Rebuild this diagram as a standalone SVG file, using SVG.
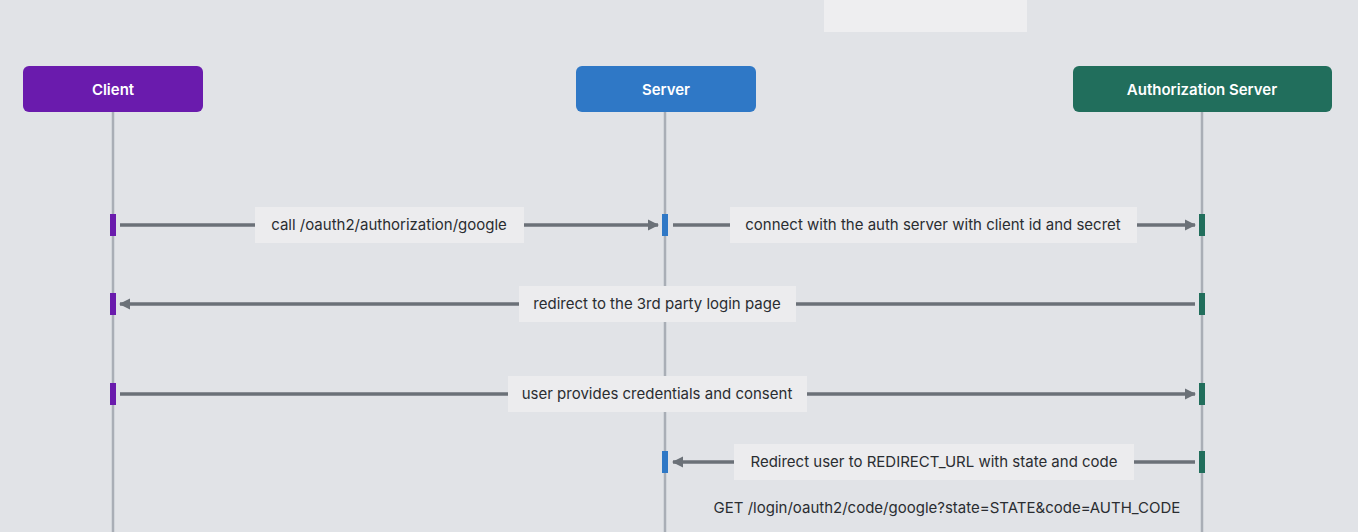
<svg xmlns="http://www.w3.org/2000/svg" width="1358" height="532" viewBox="0 0 1358 532">
<defs>
<style>
.hd{font-family:"Inter","Liberation Sans",sans-serif;font-size:15px;font-weight:600;fill:#fff;text-anchor:middle}
.lb{font-family:"Inter","Liberation Sans",sans-serif;font-size:15px;fill:#2a2d31;text-anchor:middle}
.life{stroke:#a9aeb6;stroke-width:2.5}
.msg{stroke:#6b7178;stroke-width:3.5;fill:none}
.box{fill:#ececee}
</style>
<marker id="ar" viewBox="0 0 10 10" refX="9" refY="5" markerWidth="3.2" markerHeight="3.6" orient="auto-start-reverse"><path d="M0,0L10,5L0,10z" fill="#6b7178"/></marker>
</defs>
<rect width="1358" height="532" fill="#e1e3e7"/>
<rect x="824" y="0" width="203" height="32" fill="#eeeef0"/>
<g id="lifelines">
<line class="life" x1="113" y1="112" x2="113" y2="532"/>
<line class="life" x1="665" y1="112" x2="665" y2="532"/>
<line class="life" x1="1202" y1="112" x2="1202" y2="532"/>
</g>
<g id="client"><rect x="23" y="66" width="180" height="46" rx="6" fill="#6a1bad"/><text class="hd" x="113" y="95">Client</text></g>
<g id="server"><rect x="576" y="66" width="180" height="46" rx="6" fill="#2f78c6"/><text class="hd" x="666" y="95">Server</text></g>
<g id="auth"><rect x="1073" y="66" width="259" height="46" rx="6" fill="#216e5c"/><text class="hd" x="1202" y="95">Authorization Server</text></g>
<g id="connectors">
<line class="msg" x1="120" y1="225" x2="658" y2="225" marker-end="url(#ar)"/>
<line class="msg" x1="673" y1="225" x2="1195" y2="225" marker-end="url(#ar)"/>
<line class="msg" x1="1195" y1="304" x2="120" y2="304" marker-end="url(#ar)"/>
<line class="msg" x1="120" y1="394" x2="1195" y2="394" marker-end="url(#ar)"/>
<line class="msg" x1="1195" y1="462" x2="673" y2="462" marker-end="url(#ar)"/>
<rect class="box" x="255" y="207" width="269" height="36"/><text class="lb" x="389" y="230">call /oauth2/authorization/google</text>
<rect class="box" x="730" y="207" width="407" height="36"/><text class="lb" x="933" y="230">connect with the auth server with client id and secret</text>
<rect class="box" x="519" y="286" width="277" height="36"/><text class="lb" x="657" y="309">redirect to the 3rd party login page</text>
<rect class="box" x="508" y="376" width="299" height="36"/><text class="lb" x="657" y="399">user provides credentials and consent</text>
<rect class="box" x="734" y="444" width="400" height="36"/><text class="lb" x="934" y="467">Redirect user to REDIRECT_URL with state and code</text>
<text class="lb" x="947" y="513">GET /login/oauth2/code/google?state=STATE&amp;code=AUTH_CODE</text>
</g>
<g id="activations">
<rect x="110" y="214" width="6" height="22" fill="#6a1bad"/>
<rect x="110" y="293" width="6" height="22" fill="#6a1bad"/>
<rect x="110" y="383" width="6" height="22" fill="#6a1bad"/>
<rect x="662" y="214" width="6" height="22" fill="#2f78c6"/>
<rect x="662" y="451" width="6" height="22" fill="#2f78c6"/>
<rect x="1199" y="214" width="6" height="22" fill="#216e5c"/>
<rect x="1199" y="293" width="6" height="22" fill="#216e5c"/>
<rect x="1199" y="383" width="6" height="22" fill="#216e5c"/>
<rect x="1199" y="451" width="6" height="22" fill="#216e5c"/>
</g>
</svg>
